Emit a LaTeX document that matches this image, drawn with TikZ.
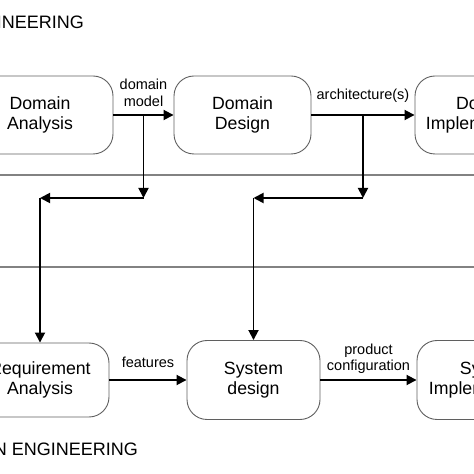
\documentclass[tikz,border=0pt]{standalone}
\usepackage{fontspec}
\setmainfont{Liberation Sans}
\usetikzlibrary{arrows.meta}
\definecolor{boxgray}{RGB}{95,95,95}
\definecolor{linegray}{RGB}{130,130,130}

\begin{document}
\begin{tikzpicture}[x=1pt, y=1pt,
  stage/.style={draw=boxgray, line width=0.9pt, rounded corners=20pt, align=center, inner sep=0pt, font=\fontsize{17.7}{20}\selectfont},
  flow/.style={line width=1.8pt, -{Triangle[length=10pt,width=10pt]}},
  tag/.style={align=center, font=\fontsize{14.5}{16.5}\selectfont},
  sepline/.style={draw=linegray, line width=1.2pt},
  title/.style={anchor=base east, inner sep=0pt, font=\fontsize{18}{20}\selectfont}]
\useasboundingbox (0,0) rectangle (474,474);
\clip (0,0) rectangle (474,474);

\node[title] (domtitle) at (84,445) {DOMAIN ENGINEERING};
\node[title] (apptitle) at (138,18) {APPLICATION ENGINEERING};

\draw[sepline] (-5,299) -- (480,299);
\draw[sepline] (-5,207) -- (480,207);

\node[stage, minimum width=146pt, minimum height=78pt] (da) at (40,359) {Domain\\Analysis};
\node[stage, minimum width=137pt, minimum height=78pt] (dd) at (242.5,359) {Domain\\Design};
\node[stage, minimum width=143pt, minimum height=78pt] (di) at (486.5,359) {Domain\\Implementation};
\node[stage, minimum width=138pt, minimum height=74pt] (ra) at (40,94) {Requirement\\Analysis};
\node[stage, minimum width=133pt, minimum height=79pt] (sd) at (253.5,94) {System\\design};
\node[stage, minimum width=145pt, minimum height=79pt] (si) at (489.5,94) {System\\Implementation};

\draw[flow] (da) -- coordinate[midway] (dm) (dd);
\draw[flow] (dd) -- coordinate[midway] (ar) (di);
\node[tag, above=5pt] (dmtag) at (dm) {domain\\model};
\node[tag, above=9pt] (artag) at (ar) {architecture(s)};
\draw[flow] (ra) -- node[tag, midway, above=8pt] (fttag) {features} (sd);
\draw[flow] (sd) -- node[tag, midway, above=2pt] (pctag) {product\\configuration} (si);

\coordinate (dmturn) at (dm |- 0,276);
\coordinate (raturn) at (ra |- 0,276);
\coordinate (arturn) at (ar |- 0,276);
\coordinate (sdturn) at (sd |- 0,276);
\draw[flow] (dm) -- (dmturn);
\draw[flow] (dmturn) -- (raturn);
\draw[flow] (raturn) -- (ra);
\draw[flow] (ar) -- (arturn);
\draw[flow] (arturn) -- (sdturn);
\draw[flow] (sdturn) -- (sd);
\end{tikzpicture}
\end{document}
